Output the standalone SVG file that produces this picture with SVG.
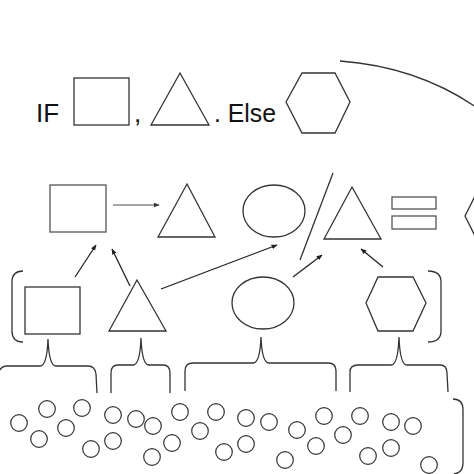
<svg xmlns="http://www.w3.org/2000/svg" width="474" height="474" viewBox="0 0 474 474">
<style>
.s{fill:none;stroke:#333;stroke-width:1.3;stroke-linejoin:miter}
.g{fill:none;stroke:#555;stroke-width:1.3}
.c{fill:none;stroke:#333;stroke-width:1.2}
.t{font-family:"Liberation Sans",Arial,sans-serif;font-size:26px;fill:#111}
.a{fill:none;stroke:#222;stroke-width:1.3;marker-end:url(#ah)}
</style>
<defs>
<marker id="ah" viewBox="0 0 10 10" refX="9" refY="5" markerWidth="6" markerHeight="6" markerUnits="userSpaceOnUse" orient="auto">
<path d="M0,1 L10,5 L0,9 z" fill="#222"/>
</marker>
<marker id="ahg" viewBox="0 0 10 10" refX="9" refY="5" markerWidth="6" markerHeight="6" markerUnits="userSpaceOnUse" orient="auto">
<path d="M0,1 L10,5 L0,9 z" fill="#333"/>
</marker>
</defs>
<rect width="474" height="474" fill="#fff"/>

<g id="rule">
<text class="t" x="36" y="122">IF</text>
<rect class="s" x="74" y="78" width="55" height="47"/>
<text class="t" x="134" y="122">,</text>
<polygon class="s" points="180,73 209,125 151,125"/>
<text class="t" x="214" y="122" textLength="62" lengthAdjust="spacingAndGlyphs">. Else</text>
<polygon class="s" points="286,102 302,73 335,73 350,102 335,133 302,133"/>
</g>

<g id="arc">
<path class="s" d="M340,61 Q420,67 480,110"/>
</g>

<g id="row2-square"><rect class="g" x="50" y="185" width="56" height="47"/></g>
<g id="row2-triangle"><polygon class="s" points="187,184 215,237 158,237"/></g>
<g id="row2-ellipse"><ellipse class="s" cx="274" cy="211" rx="31" ry="26"/></g>
<g id="row2-slash"><line class="s" x1="333" y1="173" x2="300" y2="260"/></g>
<g id="row2-triangle2"><polygon class="s" points="352,187 381,239 324,239"/></g>
<g id="row2-equals">
<rect class="g" x="392" y="197" width="44" height="12"/>
<rect class="g" x="392" y="216" width="44" height="13"/>
</g>
<g id="row2-hexagon"><polyline class="s" points="478,190 465,216 478,242"/></g>

<g id="row3-bracket">
<path class="s" d="M23,271 Q12,271 12,282 L12,331 Q12,342 23,342"/>
<path class="s" d="M428,271 Q441,271 441,282 L441,331 Q441,342 428,342"/>
</g>
<g id="row3-square"><rect class="s" x="25" y="287" width="55" height="47"/></g>
<g id="row3-triangle"><polygon class="s" points="137,280 166,331 109,331"/></g>
<g id="row3-ellipse"><ellipse class="s" cx="263" cy="303" rx="31" ry="26"/></g>
<g id="row3-hexagon"><polygon class="s" points="366,303 378,277 413,277 426,303 413,331 378,331"/></g>

<g id="connectors">
<line x1="113" y1="205" x2="159" y2="205" stroke="#888" stroke-width="1.3" marker-end="url(#ahg)"/>
<line class="a" x1="75" y1="277" x2="96" y2="245"/>
<line class="a" x1="130" y1="286" x2="112" y2="249"/>
<line class="a" x1="161" y1="289" x2="277" y2="245"/>
<line class="a" x1="293" y1="277" x2="322" y2="255"/>
<line class="a" x1="383" y1="267" x2="361" y2="249"/>
</g>

<g id="braces">
<path class="s" d="M-2,373 Q1,366 7,366 L40,366 Q47,366 48,339 Q49,366 56,366 L88,366 Q95,366 96,374 L97,393"/>
<path class="s" d="M111,393 L111,373 Q111,365 118,365 L133,365 Q140,365 141,338 Q142,365 149,365 L163,365 Q170,365 170,373 L170,393"/>
<path class="s" d="M185,391 L185,371 Q185,363 193,363 L253,363 Q260,363 261,337 Q262,363 269,363 L328,363 Q336,363 336,371 L336,391"/>
<path class="s" d="M350,392 L350,372 Q350,365 358,365 L391,365 Q398,365 399,337 Q400,365 407,365 L440,365 Q447,365 447,373 L448,392"/>
<path class="s" d="M453,399 Q463,399 463,410 L463,463 Q463,473 454,474"/>
</g>

<g id="particles" class="c">
<circle cx="19" cy="423" r="8.3"/>
<circle cx="47" cy="409" r="8.3"/>
<circle cx="82" cy="408" r="8.3"/>
<circle cx="39" cy="439" r="8.3"/>
<circle cx="66" cy="428" r="8.3"/>
<circle cx="91" cy="449" r="8.3"/>
<circle cx="113" cy="415" r="8.3"/>
<circle cx="113" cy="441" r="8.3"/>
<circle cx="136" cy="419" r="8.3"/>
<circle cx="153" cy="426" r="8.3"/>
<circle cx="152" cy="457" r="8.3"/>
<circle cx="172" cy="443" r="8.3"/>
<circle cx="180" cy="412" r="8.3"/>
<circle cx="200" cy="431" r="8.3"/>
<circle cx="216" cy="412" r="8.3"/>
<circle cx="224" cy="452" r="8.3"/>
<circle cx="246" cy="418" r="8.3"/>
<circle cx="246" cy="444" r="8.3"/>
<circle cx="269" cy="422" r="8.3"/>
<circle cx="297" cy="430" r="8.3"/>
<circle cx="285" cy="460" r="8.3"/>
<circle cx="316" cy="446" r="8.3"/>
<circle cx="324" cy="416" r="8.3"/>
<circle cx="343" cy="435" r="8.3"/>
<circle cx="360" cy="416" r="8.3"/>
<circle cx="368" cy="456" r="8.3"/>
<circle cx="391" cy="422" r="8.3"/>
<circle cx="391" cy="448" r="8.3"/>
<circle cx="413" cy="426" r="8.3"/>
<circle cx="429" cy="465" r="8.3"/>
</g>
</svg>
